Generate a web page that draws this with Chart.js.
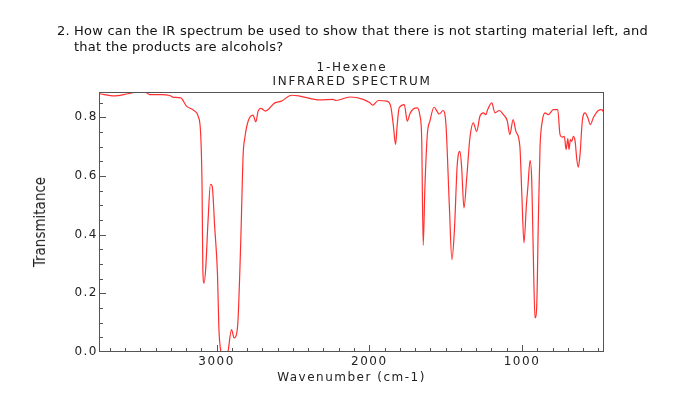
<!DOCTYPE html>
<html>
<head>
<meta charset="utf-8">
<script src="https://cdn.jsdelivr.net/npm/chart.js@4.4.1/dist/chart.umd.min.js"></script>
<style>
  html, body { margin: 0; padding: 0; background: #fff; }
  #wrap { position: relative; width: 673px; height: 399px; overflow: hidden; }
  #chart { position: absolute; left: 0; top: 0; }
  .question { position: absolute; left: 57px; top: 23px; width: 612px; font: 13px "DejaVu Sans", sans-serif; letter-spacing: 0.23px; line-height: 16px; color: #111; }
  .question .num { position: absolute; left: 0; top: 0; }
  .question .txt { margin-left: 17px; }
  .title { position: absolute; left: 152px; width: 400px; text-align: center; font: 12px "DejaVu Sans", sans-serif; letter-spacing: 1.7px; color: #222; line-height: 14px; top: 60px; }
  .ytitle { position: absolute; left: 40px; top: 222px; transform: translate(-50%, -50%) rotate(-90deg); font: 15px "Liberation Sans Narrow", "DejaVu Sans Condensed", sans-serif; color: #222; white-space: nowrap; }
</style>
</head>
<body>
<div id="wrap">
  <canvas id="chart" width="673" height="399"></canvas>
  <div class="question"><span class="num">2.</span><div class="txt">How can the IR spectrum be used to show that there is not starting material left, and<br>that the products are alcohols?</div></div>
  <div class="title">1-Hexene<br>INFRARED SPECTRUM</div>
  <div class="ytitle">Transmitance</div>
</div>
<script>
// spectrum (wavenumber in cm-1, transmittance)
const wavenumbers = [
  3770, 3667, 3580, 3514, 3459, 3438, 3361, 3307, 3285, 3235, 3197, 3143, 3121, 3104,
  3095, 3090, 3082, 3071, 3056, 3040, 3029, 3012, 2994, 2985, 2972, 2960, 2935, 2925,
  2902, 2885, 2870, 2859, 2841, 2826, 2815, 2793, 2761, 2743, 2728, 2710, 2679, 2619,
  2575, 2509, 2455, 2324, 2236, 2219, 2127, 2040, 1996, 1978, 1941, 1887, 1860, 1843,
  1828, 1817, 1804, 1771, 1751, 1734, 1712, 1686, 1668, 1657, 1647, 1636, 1620, 1603,
  1576, 1542, 1516, 1498, 1476, 1459, 1443, 1424, 1406, 1395, 1380, 1362, 1341, 1319,
  1297, 1275, 1253, 1236, 1227, 1198, 1177, 1149, 1122, 1096, 1080, 1058, 1040, 1014,
  1001, 987, 971, 962, 947, 936, 926, 915, 904, 893, 882, 867, 849, 827,
  795, 766, 751, 736, 723, 711, 700, 692, 683, 674, 664, 652, 641, 631,
  620, 605, 587, 569, 552, 533, 500, 478, 463
];
const transmittance = [
  0.880, 0.873, 0.880, 0.886, 0.884, 0.877, 0.877, 0.874, 0.868, 0.866, 0.838, 0.821, 0.804, 0.741,
  0.559, 0.280, 0.235, 0.286, 0.446, 0.571, 0.565, 0.423, 0.264, 0.082, 0.000, -0.03, -0.03, 0.000,
  0.076, 0.048, 0.059, 0.116, 0.389, 0.673, 0.730, 0.787, 0.807, 0.784, 0.821, 0.830, 0.821, 0.849,
  0.855, 0.875, 0.872, 0.859, 0.861, 0.857, 0.869, 0.861, 0.849, 0.841, 0.857, 0.855, 0.838, 0.775,
  0.707, 0.775, 0.832, 0.843, 0.787, 0.812, 0.828, 0.832, 0.804, 0.730, 0.364, 0.559, 0.741, 0.787,
  0.834, 0.811, 0.823, 0.775, 0.502, 0.315, 0.411, 0.639, 0.684, 0.627, 0.491, 0.593, 0.730, 0.781,
  0.752, 0.804, 0.815, 0.809, 0.823, 0.849, 0.815, 0.823, 0.809, 0.787, 0.741, 0.792, 0.752, 0.701,
  0.536, 0.372, 0.502, 0.559, 0.652, 0.582, 0.332, 0.116, 0.150, 0.446, 0.696, 0.787, 0.815, 0.809,
  0.826, 0.826, 0.741, 0.732, 0.735, 0.690, 0.727, 0.690, 0.724, 0.718, 0.735, 0.718, 0.656, 0.630,
  0.673, 0.787, 0.815, 0.798, 0.775, 0.798, 0.823, 0.826, 0.815
];
const xTickLabels = [3000, 2000, 1000];
const yTickLabels = [0, 0.2, 0.4, 0.6, 0.8];
const xRange = [463, 3770];
const yRange = [0, 0.886];

const LETTERS = '1.5px';

// frame + inward tick marks, drawn through the scales
const frameTicks = {
  id: 'frameTicks',
  beforeUpdate(chart) { chart.ctx.letterSpacing = LETTERS; },
  beforeDraw(chart) { chart.ctx.letterSpacing = LETTERS; },
  afterDraw(chart) {
    const { ctx, chartArea: a, scales: { x, y } } = chart;
    ctx.save();
    ctx.strokeStyle = '#555';
    ctx.lineWidth = 1;
    ctx.beginPath();
    for (let v = 3700; v >= 500; v -= 100) {
      const px = Math.round(x.getPixelForValue(v)) + 0.5;
      const len = v % 1000 === 0 ? 7 : 4;
      ctx.moveTo(px, a.bottom);
      ctx.lineTo(px, a.bottom - len);
    }
    for (let i = 1; i <= 17; i++) {
      const py = Math.round(y.getPixelForValue(i * 0.05)) + 0.5;
      const len = i % 4 === 0 ? 7 : 4;
      ctx.moveTo(a.left, py);
      ctx.lineTo(a.left + len, py);
    }
    ctx.stroke();
    ctx.strokeRect(a.left + 0.5, a.top + 0.5, a.right - a.left - 1, a.bottom - a.top - 1);
    ctx.restore();
  }
};

const points = wavenumbers.map((w, i) => ({ x: w, y: transmittance[i] }));

new Chart(document.getElementById('chart'), {
  type: 'line',
  data: {
    datasets: [{
      data: points,
      borderColor: '#ff3030',
      borderWidth: 1.2,
      pointRadius: 0,
      cubicInterpolationMode: 'monotone',
      fill: false
    }]
  },
  options: {
    responsive: false,
    animation: false,
    devicePixelRatio: 1,
    layout: { padding: { left: 59, right: 69, top: 92, bottom: 0 } },
    plugins: { legend: { display: false }, tooltip: { enabled: false }, title: { display: false } },
    scales: {
      x: {
        type: 'linear',
        reverse: true,
        min: xRange[0],
        max: xRange[1],
        grid: { display: false, drawTicks: false },
        border: { display: false },
        afterBuildTicks: s => { s.ticks = xTickLabels.map(v => ({ value: v })); },
        afterFit: s => { s.height = 47; },
        ticks: {
          padding: 3,
          maxRotation: 0,
          color: '#222',
          font: { family: 'DejaVu Sans', size: 12 },
          callback: v => String(v)
        },
        title: {
          display: true,
          text: 'Wavenumber (cm-1)',
          color: '#222',
          font: { family: 'DejaVu Sans', size: 12 },
          padding: { top: 0, bottom: 14 }
        }
      },
      y: {
        min: yRange[0],
        max: yRange[1],
        grid: { display: false, drawTicks: false },
        border: { display: false },
        afterBuildTicks: s => { s.ticks = yTickLabels.map(v => ({ value: v })); },
        afterFit: s => { s.width = 40; },
        ticks: {
          padding: 1,
          color: '#222',
          font: { family: 'DejaVu Sans', size: 12 },
          callback: v => v.toFixed(1)
        }
      }
    }
  },
  plugins: [frameTicks]
});
</script>
</body>
</html>
